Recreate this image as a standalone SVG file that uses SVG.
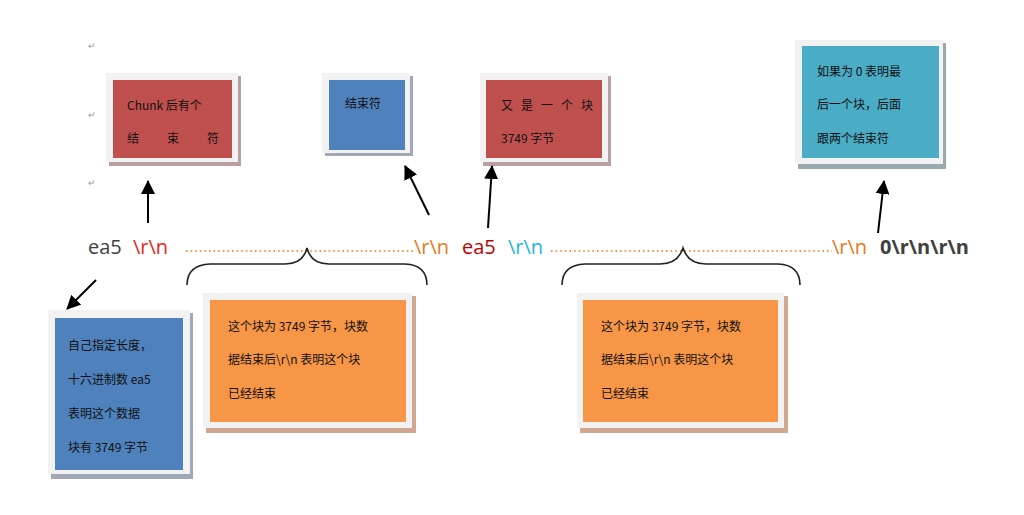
<svg xmlns="http://www.w3.org/2000/svg" width="1024" height="515" viewBox="0 0 1024 515">
<style>
.t{font-family:"Noto Sans CJK SC","Liberation Sans",sans-serif;font-size:12px;fill:#111}
.m{font-family:"Open Sans","Liberation Sans",sans-serif;font-size:20px}
.fr{fill:#f2f2f2}
.c{stroke:#000;stroke-width:2;fill:none}
.b{stroke:#222;stroke-width:1.6;fill:none}
.mk{fill:#999;font-family:"Liberation Sans",sans-serif;font-size:9px}
</style>
<defs><marker id="a" markerWidth="8" markerHeight="8" refX="7" refY="4" orient="auto" markerUnits="userSpaceOnUse" viewBox="0 0 8 8"><path d="M0,0L8,4L0,8z" fill="#000"/></marker>
<marker id="ab" markerWidth="14" markerHeight="14" refX="13" refY="7" orient="auto" markerUnits="userSpaceOnUse" viewBox="0 0 14 14"><path d="M0,0L14,7L0,14z" fill="#000"/></marker></defs>
<text class="mk" x="88" y="49">↵</text><text class="mk" x="88" y="118">↵</text><text class="mk" x="88" y="186">↵</text>
<g id="n1"><rect x="109" y="76" width="132" height="90" fill="#b9a0a0"/><rect class="fr" x="106" y="73" width="132" height="89"/><rect x="113" y="80" width="119" height="78" fill="#c0504d"/>
<text class="t" x="127" y="110">Chunk  后有个</text><text class="t" x="127" y="143" textLength="92">结  束  符</text></g>
<g id="n2"><rect x="325" y="76" width="88" height="80" fill="#a0a8b8"/><rect class="fr" x="322" y="73" width="88" height="80"/><rect x="329" y="80" width="76" height="70" fill="#4f81bd"/>
<text class="t" x="345" y="108">结束符</text></g>
<g id="n3"><rect x="483" y="76" width="128" height="90" fill="#b9a0a0"/><rect class="fr" x="480" y="73" width="128" height="89"/><rect x="486" y="80" width="116" height="78" fill="#c0504d"/>
<text class="t" x="501" y="110" textLength="92">又 是 一 个 块</text><text class="t" x="501" y="143">3749 字节</text></g>
<g id="n4"><rect x="798" y="43" width="148" height="126" fill="#9aa8b0"/><rect class="fr" x="795" y="40" width="148" height="124"/><rect x="802" y="46" width="137" height="112" fill="#4bacc6"/>
<text class="t" x="817" y="76">如果为 0 表明最</text><text class="t" x="817" y="109">后一个块，后面</text><text class="t" x="817" y="143">跟两个结束符</text></g>
<g id="n5"><rect x="51" y="313" width="142" height="166" fill="#a0a8b8"/><rect class="fr" x="48" y="310" width="142" height="164"/><rect x="55" y="318" width="128" height="152" fill="#4f81bd"/>
<text class="t" x="68" y="350">自己指定长度，</text><text class="t" x="68" y="384">十六进制数 ea5</text><text class="t" x="68" y="418">表明这个数据</text><text class="t" x="68" y="452">块有 3749 字节</text></g>
<g id="n6"><rect x="206" y="296" width="210" height="137" fill="#d0a890"/><rect class="fr" x="203" y="293" width="209" height="135"/><rect x="210" y="300" width="196" height="122" fill="#f79646"/>
<text class="t" x="228" y="331">这个块为 3749 字节，块数</text><text class="t" x="228" y="364">据结束后\r\n 表明这个块</text><text class="t" x="228" y="398">已经结束</text></g>
<g id="n7"><rect x="580" y="296" width="208" height="137" fill="#d0a890"/><rect class="fr" x="577" y="293" width="207" height="135"/><rect x="583" y="300" width="195" height="122" fill="#f79646"/>
<text class="t" x="601" y="331">这个块为 3749 字节，块数</text><text class="t" x="601" y="364">据结束后\r\n 表明这个块</text><text class="t" x="601" y="398">已经结束</text></g>
<g id="line">
<text class="m" x="88" y="254" fill="#404040">ea5</text>
<text class="m" x="133" y="254" fill="#e8261c">\r\n</text>
<line x1="186" y1="251" x2="414" y2="251" stroke="#e87722" stroke-width="1.6" stroke-dasharray="1.6,3"/>
<text class="m" x="414" y="254" fill="#e87722">\r\n</text>
<text class="m" x="462" y="254" fill="#c00000">ea5</text>
<text class="m" x="508" y="254" fill="#1fb4e6">\r\n</text>
<line x1="551" y1="251" x2="832" y2="251" stroke="#e87722" stroke-width="1.6" stroke-dasharray="1.6,3"/>
<text class="m" x="832" y="254" fill="#e87722">\r\n</text>
<text class="m" x="880" y="254" fill="#404040" font-weight="bold">0\r\n\r\n</text>
</g>
<g id="connectors">
<line class="c" x1="148" y1="223" x2="148" y2="181" marker-end="url(#ab)"/>
<line class="c" x1="429" y1="215" x2="405" y2="166" marker-end="url(#ab)"/>
<line class="c" x1="488" y1="228" x2="492" y2="166" marker-end="url(#ab)"/>
<line class="c" x1="878" y1="233" x2="884" y2="181" marker-end="url(#ab)"/>
<line class="c" x1="96" y1="280" x2="67" y2="309" marker-end="url(#ab)"/>
<path class="b" d="M187,285 Q187,265 210,264 L285,264 Q303,264 307,248 Q311,264 329,264 L405,264 Q427,265 427,285"/>
<path class="b" d="M562,285 Q562,265 585,264 L660,264 Q678,264 683,248 Q688,264 706,264 L778,264 Q800,265 800,285"/>
</g>
</svg>
